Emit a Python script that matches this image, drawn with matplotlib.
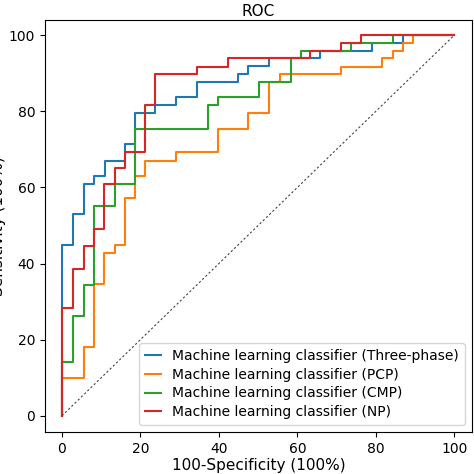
import matplotlib
matplotlib.use("Agg")
import matplotlib.pyplot as plt

three_x = [0, 0, 2.9, 2.9, 5.7, 5.7, 8.2, 8.2, 10.9, 10.9, 16, 16, 18.6, 18.6, 23.8, 23.8, 29, 29, 34.5, 34.5, 44.8, 44.8, 47.4, 47.4, 52.7, 52.7, 65.8, 65.8, 79, 79, 87, 87, 100]
three_y = [0, 45, 45, 53, 53, 61, 61, 63, 63, 67, 67, 71.4, 71.4, 79.5, 79.5, 81.6, 81.6, 83.7, 83.7, 87.7, 87.7, 89.8, 89.8, 91.8, 91.8, 94, 94, 95.8, 95.8, 97.9, 97.9, 100, 100]
pcp_x = [0, 0, 5.7, 5.7, 8.2, 8.2, 10.7, 10.7, 13.5, 13.5, 16, 16, 18.6, 18.6, 21.3, 21.3, 29, 29, 39.7, 39.7, 47.4, 47.4, 52.7, 52.7, 55.6, 55.6, 71, 71, 81.6, 81.6, 84.3, 84.3, 86.8, 86.8, 89.4, 89.4, 100]
pcp_y = [0, 10, 10, 18.2, 18.2, 34.6, 34.6, 42.9, 42.9, 44.9, 44.9, 57.2, 57.2, 63, 63, 67, 67, 69.3, 69.3, 75.3, 75.3, 79.5, 79.5, 87.7, 87.7, 89.7, 89.7, 91.7, 91.7, 94, 94, 95.8, 95.8, 97.9, 97.9, 100, 100]
cmp_x = [0, 0, 2.9, 2.9, 5.7, 5.7, 8.2, 8.2, 13.5, 13.5, 18.6, 18.6, 37.1, 37.1, 39.7, 39.7, 50.1, 50.1, 58.3, 58.3, 60.8, 60.8, 73.7, 73.7, 84.3, 84.3, 100]
cmp_y = [0, 14.2, 14.2, 26.3, 26.3, 34.4, 34.4, 55, 55, 61, 61, 75.3, 75.3, 81.6, 81.6, 83.7, 83.7, 87.7, 87.7, 94, 94, 95.8, 95.8, 97.9, 97.9, 100, 100]
np_x = [0, 0, 2.9, 2.9, 5.7, 5.7, 8.2, 8.2, 10.8, 10.8, 13.5, 13.5, 16, 16, 21.3, 21.3, 23.8, 23.8, 34.5, 34.5, 42.2, 42.2, 63.3, 63.3, 71, 71, 76.3, 76.3, 100]
np_y = [0, 28.4, 28.4, 38.6, 38.6, 44.7, 44.7, 49, 49, 61, 61, 65, 65, 69.3, 69.3, 81.6, 81.6, 89.8, 89.8, 91.7, 91.7, 94, 94, 95.8, 95.8, 97.9, 97.9, 100, 100]
labels = ["Machine learning classifier (Three-phase)", "Machine learning classifier (PCP)",
          "Machine learning classifier (CMP)", "Machine learning classifier (NP)"]

fig = plt.figure(figsize=(4.74, 4.74), dpi=100)
ax = fig.add_axes([0.095, 0.089, 0.90, 0.869])
for (xs, ys), c, lab in zip([(three_x, three_y), (pcp_x, pcp_y), (cmp_x, cmp_y), (np_x, np_y)],
                            ["#1f77b4", "#ff7f0e", "#2ca02c", "#d62728"], labels):
    ax.plot(xs, ys, color=c, lw=1.5, label=lab)
ax.plot([0, 100], [0, 100], color="#444444", lw=0.8, ls="--", dashes=(2, 2))
ax.set_xlim(-4.3, 104.4)
ax.set_ylim(-4.2, 104)
ax.set_xticks(range(0, 101, 20))
ax.set_yticks(range(0, 101, 20))
ax.tick_params(labelsize=10)
ax.set_xlabel("100-Specificity (100%)", fontsize=11, labelpad=2)
ax.set_ylabel("Sensitivity (100%)", fontsize=11, labelpad=2)
ax.set_title("ROC", fontsize=11, pad=3)
ax.legend(loc="lower right", fontsize=10, handlelength=1.2, borderpad=0.4, labelspacing=0.35)
fig.savefig("out.png", dpi=100)
